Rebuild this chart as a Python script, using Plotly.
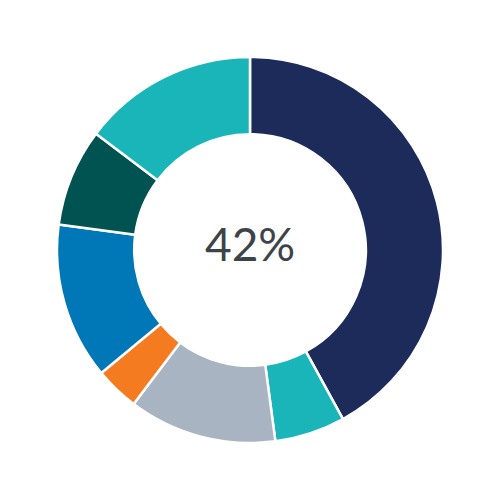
import plotly.graph_objects as go

labels = ["A", "B", "C", "D", "E", "F", "G"]
values = [42, 5.9, 12.4, 3.7, 13.1, 8.2, 14.7]
slice_colors = ["#1c2b5a", "#1ab5b8", "#a9b4c2", "#f47b20", "#0077b6", "#005350", "#1ab5b8"]
center_text = "42%"

fig = go.Figure(data=[go.Pie(labels=labels,
                             values=values,
                             hole=0.6,
                             sort=False,
                             direction="clockwise",
                             rotation=0,
                             textinfo="none",
                             hoverinfo="label+percent",
                             marker=dict(colors=slice_colors,
                                         line=dict(color="white", width=2.5)))])

# page has an 8px body margin, so shift the plot area up/left
fig.update_layout(width=500, height=500,
                  margin=dict(l=49, r=65, t=49, b=65),
                  showlegend=False,
                  paper_bgcolor="white",
                  plot_bgcolor="white",
                  annotations=[dict(text=center_text, x=0.5, y=0.516,
                                    xref="paper", yref="paper",
                                    showarrow=False,
                                    font=dict(family="Lato", size=46, color="#3d4449"))])

fig.write_html("out.html")
